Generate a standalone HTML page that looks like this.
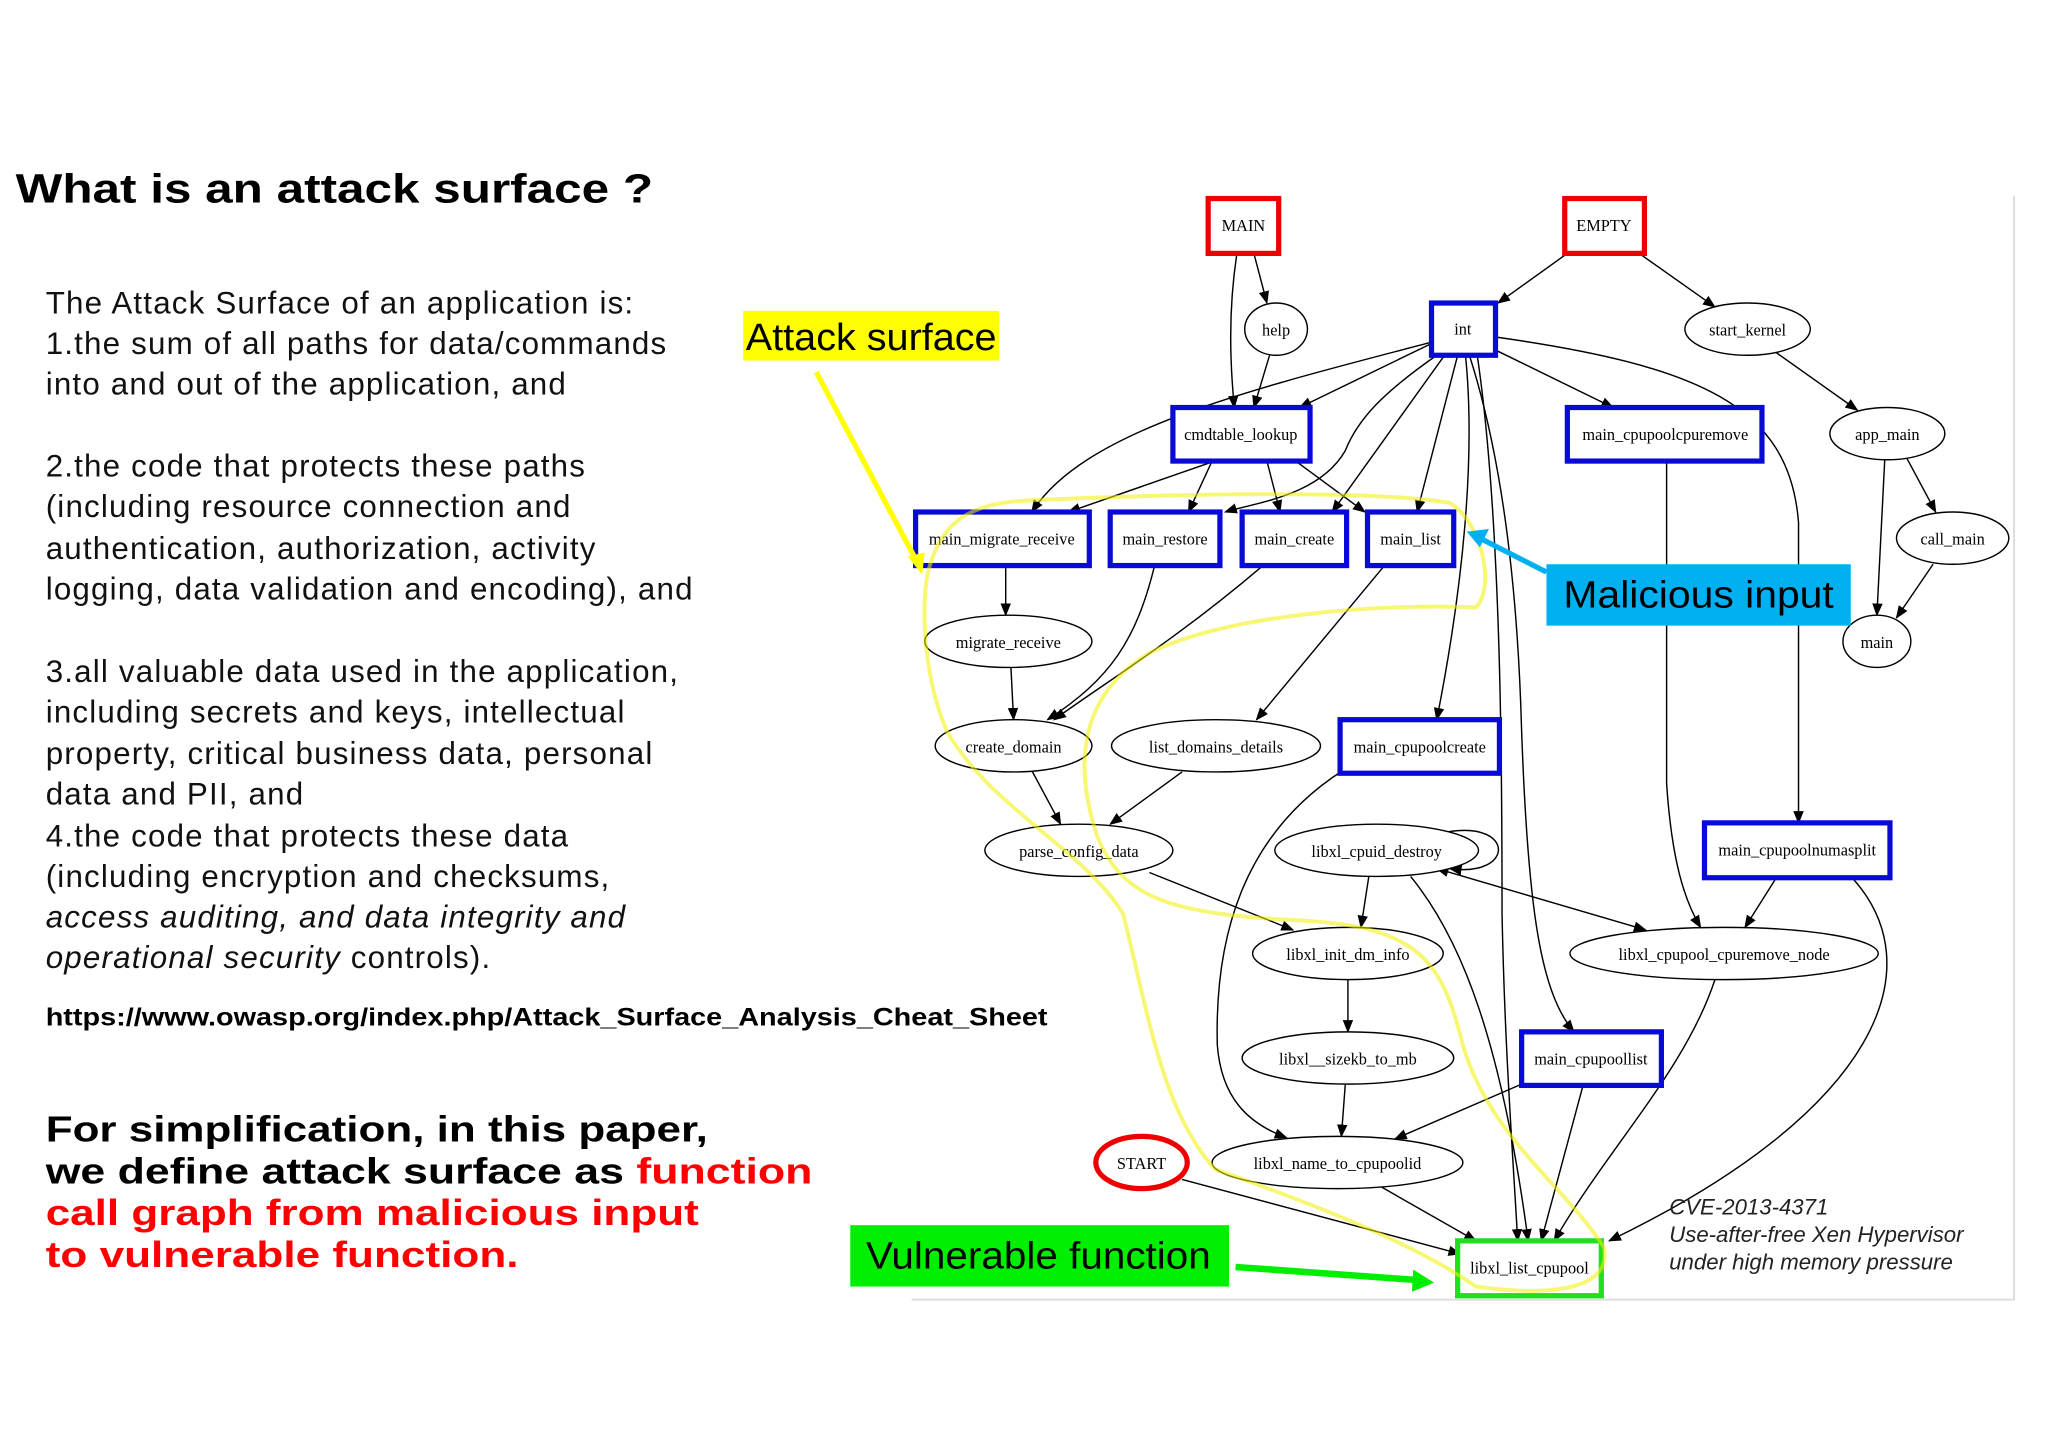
<!DOCTYPE html>
<html><head><meta charset="utf-8"><style>
html,body{margin:0;padding:0;background:#fff;}
svg{display:block}
</style></head><body>
<svg width="2048" height="1448" viewBox="0 0 1568 1108.6" preserveAspectRatio="none" xmlns="http://www.w3.org/2000/svg">
<defs>
<marker id="a" markerWidth="10" markerHeight="8" refX="9" refY="4" orient="auto" markerUnits="userSpaceOnUse"><path d="M0,0 L10,4 L0,8z" fill="#000"/></marker>
<marker id="as" markerWidth="10" markerHeight="8" refX="1" refY="4" orient="auto" markerUnits="userSpaceOnUse"><path d="M10,0 L0,4 L10,8z" fill="#000"/></marker>
</defs>
<rect width="1568" height="1109" fill="#fff"/>
<!-- left text -->
<g font-family="Liberation Sans, Arial, sans-serif" fill="#111">
<text x="12" y="155" font-size="31" font-weight="bold" fill="#000" textLength="488" lengthAdjust="spacingAndGlyphs">What is an attack surface ?</text>
<g font-size="24" letter-spacing="0.9">
<text x="35" y="240">The Attack Surface of an application is:</text>
<text x="35" y="271">1.the sum of all paths for data/commands</text>
<text x="35" y="302">into and out of the application, and</text>
<text x="35" y="365">2.the code that protects these paths</text>
<text x="35" y="396">(including resource connection and</text>
<text x="35" y="428">authentication, authorization, activity</text>
<text x="35" y="459">logging, data validation and encoding), and</text>
<text x="35" y="522">3.all valuable data used in the application,</text>
<text x="35" y="553">including secrets and keys, intellectual</text>
<text x="35" y="585">property, critical business data, personal</text>
<text x="35" y="616">data and PII, and</text>
<text x="35" y="648">4.the code that protects these data</text>
<text x="35" y="679">(including encryption and checksums,</text>
<text x="35" y="710" font-style="italic">access auditing, and data integrity and</text>
<text x="35" y="741"><tspan font-style="italic">operational security</tspan> controls).</text>
</g>
<text x="35" y="785" font-size="19" font-weight="bold" fill="#000" textLength="767" lengthAdjust="spacingAndGlyphs">https://www.owasp.org/index.php/Attack_Surface_Analysis_Cheat_Sheet</text>
<g font-size="28" font-weight="bold" fill="#000">
<text x="35" y="874" textLength="507" lengthAdjust="spacingAndGlyphs">For simplification, in this paper,</text>
<text x="35" y="906" textLength="587" lengthAdjust="spacingAndGlyphs">we define attack surface as <tspan fill="#f00">function</tspan></text>
<text x="35" y="938" fill="#f00" textLength="500" lengthAdjust="spacingAndGlyphs">call graph from malicious input</text>
<text x="35" y="970" fill="#f00" textLength="362" lengthAdjust="spacingAndGlyphs">to vulnerable function.</text>
</g>
</g>
<!-- graph frame -->
<path d="M1542,150 L1542,995 L698,995" fill="none" stroke="#ddd" stroke-width="1.5"/>
<!-- edges -->
<g fill="none" stroke="#000" stroke-width="1.1" marker-end="url(#a)">
<path d="M960,194 L970,232"/>
<path d="M947,194 C940,240 942,280 945,312"/>
<path d="M972,272 L960,312"/>
<path d="M1200,194 L1147,232"/>
<path d="M1255,194 L1313,235"/>
<path d="M1360,270 L1422,314"/>
<path d="M1098,262 L995,312"/>
<path d="M1096,262 C950,300 830,330 790,392"/>
<path d="M1100,272 C1060,300 1040,320 1030,345 C1010,380 960,385 938,392"/>
<path d="M1106,272 L1020,392"/>
<path d="M1116,272 L1085,392"/>
<path d="M1122,272 C1130,350 1120,450 1100,551"/>
<path d="M1125,272 C1150,350 1162,450 1165,560 C1170,700 1180,760 1205,790"/>
<path d="M1131,272 C1150,400 1150,600 1150,700 C1152,800 1158,880 1162,950"/>
<path d="M1145,268 L1235,312"/>
<path d="M1145,258 C1300,280 1370,310 1377,400 L1377,630"/>
<path d="M930,353 L818,392"/>
<path d="M928,353 L910,392"/>
<path d="M970,353 L980,392"/>
<path d="M992,353 L1045,392"/>
<path d="M1443,352 L1437,471"/>
<path d="M1460,351 L1482,392"/>
<path d="M1480,432 L1452,473"/>
<path d="M770,433 L770,471"/>
<path d="M774,511 L776,551"/>
<path d="M884,433 C870,490 850,520 802,551"/>
<path d="M967,433 C900,490 850,520 807,551"/>
<path d="M1060,433 L962,551"/>
<path d="M790,590 L812,631"/>
<path d="M905,591 L850,631"/>
<path d="M1028,590 C950,640 930,720 932,800 C935,840 955,860 985,871"/>
<path d="M1276,353 L1276,600 C1280,660 1290,690 1302,710"/>
<path d="M880,668 L990,712"/>
<path d="M1048,671 L1042,710"/>
<path d="M1108,637 C1160,628 1160,672 1110,665"/>
<path d="M1360,672 L1336,710"/>
<path d="M1080,671 C1120,720 1150,800 1170,950"/>
<path d="M1032,750 L1032,790"/>
<path d="M1030,830 L1027,870"/>
<path d="M1165,830 L1068,872"/>
<path d="M1212,831 L1180,950"/>
<path d="M1313,750 C1290,820 1230,880 1190,950"/>
<path d="M1418,672 C1480,740 1440,850 1232,950"/>
<path d="M905,903 L1118,960"/>
<path d="M1058,909 L1130,950"/>
<path d="M1100,665 L1260,712" marker-start="url(#as)"/>
</g>
<!-- nodes -->
<g font-family="Liberation Serif, Times New Roman, serif" font-size="12.5" text-anchor="middle" fill="#000">
<g fill="#fff" stroke="#e00" stroke-width="4">
<rect x="925" y="152" width="54" height="42"/>
<rect x="1198" y="152" width="61" height="42"/>
<ellipse cx="874" cy="890" rx="35" ry="20"/>
</g>
<g fill="#fff" stroke="#0a0ad8" stroke-width="4">
<rect x="1096" y="232" width="49" height="40"/>
<rect x="898" y="312" width="105" height="41"/>
<rect x="1200" y="312" width="149" height="41"/>
<rect x="701" y="392" width="133" height="41"/>
<rect x="850" y="392" width="84" height="41"/>
<rect x="951" y="392" width="80" height="41"/>
<rect x="1047" y="392" width="66" height="41"/>
<rect x="1026" y="551" width="122" height="41"/>
<rect x="1305" y="630" width="142" height="42"/>
<rect x="1165" y="790" width="107" height="41"/>
</g>
<rect x="1116" y="950" width="110" height="42" fill="#fff" stroke="#1ee01e" stroke-width="4"/>
<g fill="#fff" stroke="#000" stroke-width="1.1">
<ellipse cx="977" cy="252" rx="24" ry="20"/>
<ellipse cx="1338" cy="252" rx="48" ry="20"/>
<ellipse cx="1445" cy="332" rx="44" ry="20"/>
<ellipse cx="1495" cy="412" rx="43" ry="20"/>
<ellipse cx="772" cy="491" rx="64" ry="20"/>
<ellipse cx="1437" cy="491" rx="26" ry="20"/>
<ellipse cx="776" cy="571" rx="60" ry="20"/>
<ellipse cx="931" cy="571" rx="80" ry="20"/>
<ellipse cx="826" cy="651" rx="72" ry="20"/>
<ellipse cx="1054" cy="651" rx="78" ry="20"/>
<ellipse cx="1032" cy="730" rx="73" ry="20"/>
<ellipse cx="1320" cy="730" rx="118" ry="20"/>
<ellipse cx="1032" cy="810" rx="81" ry="20"/>
<ellipse cx="1024" cy="890" rx="96" ry="20"/>
</g>
<text x="952" y="177">MAIN</text>
<text x="1228" y="177">EMPTY</text>
<text x="874" y="895">START</text>
<text x="1120" y="256">int</text>
<text x="950" y="337">cmdtable_lookup</text>
<text x="1275" y="337">main_cpupoolcpuremove</text>
<text x="767" y="417">main_migrate_receive</text>
<text x="892" y="417">main_restore</text>
<text x="991" y="417">main_create</text>
<text x="1080" y="417">main_list</text>
<text x="1087" y="576">main_cpupoolcreate</text>
<text x="1376" y="655">main_cpupoolnumasplit</text>
<text x="1218" y="815">main_cpupoollist</text>
<text x="1171" y="975">libxl_list_cpupool</text>
<text x="977" y="257">help</text>
<text x="1338" y="257">start_kernel</text>
<text x="1445" y="337">app_main</text>
<text x="1495" y="417">call_main</text>
<text x="772" y="496">migrate_receive</text>
<text x="1437" y="496">main</text>
<text x="776" y="576">create_domain</text>
<text x="931" y="576">list_domains_details</text>
<text x="826" y="656">parse_config_data</text>
<text x="1054" y="656">libxl_cpuid_destroy</text>
<text x="1032" y="735">libxl_init_dm_info</text>
<text x="1320" y="735">libxl_cpupool_cpuremove_node</text>
<text x="1032" y="815">libxl__sizekb_to_mb</text>
<text x="1024" y="895">libxl_name_to_cpupoolid</text>
</g>
<!-- yellow loop -->
<path d="M710,440 C720,400 740,385 790,383 C900,378 1050,375 1110,385 C1135,400 1145,450 1130,465 C1060,462 940,470 880,500 C830,530 820,580 840,640 C860,690 900,700 1000,705 C1090,710 1105,740 1120,800 C1140,870 1200,910 1228,955 C1235,990 1180,992 1130,985 C1080,950 1000,920 930,895 C890,850 880,780 860,700 C830,650 760,620 725,560 C708,520 705,470 710,440" fill="none" stroke="#f0f000" stroke-width="3" opacity="0.55"/>
<!-- annotations -->
<rect x="569" y="238" width="196" height="38" fill="#ffff00"/>
<text x="571" y="268" font-family="Liberation Sans, sans-serif" font-size="29" fill="#000" textLength="192" lengthAdjust="spacingAndGlyphs">Attack surface</text>
<line x1="625" y1="285" x2="701" y2="428" stroke="#ffff00" stroke-width="4"/>
<path d="M695,426 L706,440 L708,423z" fill="#ffff00"/>
<rect x="1184" y="432" width="233" height="47" fill="#00b0f0"/>
<text x="1197" y="465" font-family="Liberation Sans, sans-serif" font-size="29" fill="#000" textLength="207" lengthAdjust="spacingAndGlyphs">Malicious input</text>
<line x1="1184" y1="438" x2="1133" y2="412" stroke="#00b0f0" stroke-width="4"/>
<path d="M1123,407 L1140,405 L1133,419z" fill="#00b0f0"/>
<rect x="651" y="938" width="290" height="47" fill="#00ee00"/>
<text x="663" y="971" font-family="Liberation Sans, sans-serif" font-size="29" fill="#000" textLength="264" lengthAdjust="spacingAndGlyphs">Vulnerable function</text>
<line x1="946" y1="970" x2="1085" y2="980" stroke="#00ee00" stroke-width="5"/>
<path d="M1098,982 L1082,972 L1081,989z" fill="#00ee00"/>
<g font-family="Liberation Sans, sans-serif" font-size="17" font-style="italic" fill="#222">
<text x="1278" y="930">CVE-2013-4371</text>
<text x="1278" y="951">Use-after-free Xen Hypervisor</text>
<text x="1278" y="972">under high memory pressure</text>
</g>
</svg>
</body></html>
